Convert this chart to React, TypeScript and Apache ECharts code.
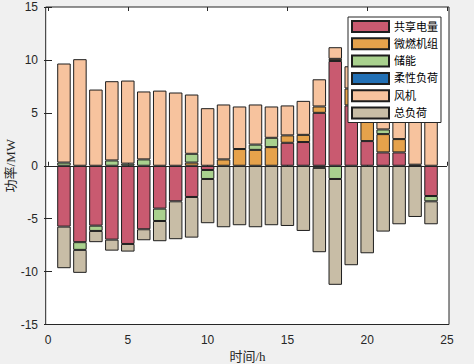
import React, { useEffect, useRef } from "react";
import * as echarts from "echarts";

const hours = [1, 2, 3, 4, 5, 6, 7, 8, 9, 10, 11, 12, 13, 14, 15, 16, 17, 18, 19, 20, 21, 22, 23, 24];
const sharedPower = [-5.75, -7.22, -5.66, -6.98, -7.39, -6.0, -4.05, -3.36, -2.95, -0.4, 0, 0, 0, 0, 2.17, 2.24, 5.0, 9.9, 5.7, 2.33, 1.26, 1.26, 0, -2.86];
const microTurbine = [0, 0, 0, 0, 0, 0, 0, 0, 0.3, 0, 0.6, 1.58, 1.5, 1.76, 0.7, 0.68, 0.6, 0.2, 1.6, 2.01, 1.73, 1.26, 0.1, 0];
const storage = [0.3, -0.73, -0.5, 0.5, 0.2, 0.6, -1.17, 0, 0.83, -0.85, 0, 0, 0.5, 0.88, 0, 0, -0.2, -1.25, 0, 0.96, 0.44, 0, 0, -0.5];
const flexibleLoad = [0, 0, 0, 0, 0, 0, 0, 0, 0, 0, 0, 0, 0, 0, 0, 0, 0, 0, 0, 0, 0, 0, 0, 0];
const windPower = [9.36, 10.07, 7.2, 7.49, 7.85, 6.42, 7.1, 6.92, 5.6, 5.44, 5.19, 4.02, 3.79, 2.96, 2.83, 3.21, 2.57, 1.1, 2.1, 2.97, 2.79, 3.01, 4.74, 5.53];
const totalLoad = [-3.93, -2.17, -1.06, -1.04, -0.72, -1.04, -1.91, -3.58, -3.84, -4.18, -5.81, -5.62, -5.81, -5.62, -5.69, -6.16, -7.97, -10.0, -9.4, -8.27, -6.22, -5.53, -4.84, -2.17];

const xMin = 0;
const xMax = 25;

const seriesNames = ["共享电量", "微燃机组", "储能", "柔性负荷", "风机", "总负荷"];
const seriesValues = [sharedPower, microTurbine, storage, flexibleLoad, windPower, totalLoad];
const seriesColors = ["#C95A70", "#E6A24B", "#A9D18E", "#2270B5", "#F7C39E", "#C8BDA6"];

const axisColor = "#262626";
const serifFont = "'Liberation Serif', 'Noto Sans CJK SC', serif";
const sansFont = "'Liberation Sans', Arial, sans-serif";

export default function App() {
  const ref = useRef<HTMLDivElement>(null);

  useEffect(() => {
    document.body.style.margin = "0";
    if (!ref.current) return;
    const chart = echarts.init(ref.current, undefined, { renderer: "svg" });

    // category slots 0..25 so that slot k sits exactly at value k on the value axis
    const slots: string[] = [];
    for (let k = xMin; k <= xMax; k++) slots.push(String(k));

    const series: any[] = seriesNames.map((name, i) => ({
      name,
      type: "bar",
      stack: "total",
      xAxisIndex: 0,
      yAxisIndex: 0,
      barWidth: 13.5,
      data: slots.map((s) => {
        const j = hours.indexOf(Number(s));
        if (j < 0) return "-";
        const v = seriesValues[i][j];
        return v === 0 ? "-" : v;
      }),
      itemStyle: { color: seriesColors[i], borderColor: "#1e1e1e", borderWidth: 1 },
      emphasis: { disabled: true },
    }));
    series[series.length - 1].markLine = {
      silent: true,
      symbol: ["none", "none"],
      label: { show: false },
      lineStyle: { color: axisColor, width: 1, type: "solid" },
      data: [{ yAxis: 0 }],
    };

    const commonX = {
      type: "value",
      min: xMin,
      max: xMax,
      interval: 5,
      axisLine: { show: false },
      splitLine: { show: false },
      axisTick: { show: true, inside: true, length: 4, lineStyle: { color: axisColor } },
    };
    const commonY = {
      type: "value",
      min: -15,
      max: 15,
      interval: 5,
      axisLine: { show: false },
      splitLine: { show: false },
      axisTick: { show: true, inside: true, length: 4, lineStyle: { color: axisColor } },
    };

    chart.setOption({
      animation: false,
      backgroundColor: "#f0f0f0",
      grid: { left: 48, right: 27, top: 7, bottom: 39.5, outerBoundsMode: "none", containLabel: false },
      graphic: [
        {
          type: "rect",
          z: -1,
          silent: true,
          shape: { x: 45.7, y: 7, width: 403.3, height: 317.5 },
          style: { fill: "#ffffff", stroke: axisColor, lineWidth: 1 },
        },
      ],
      legend: {
        orient: "vertical",
        left: 348,
        top: 17,
        backgroundColor: "#ffffff",
        borderColor: axisColor,
        borderWidth: 1,
        borderRadius: 0,
        padding: [3, 3, 3, 3],
        itemWidth: 37,
        itemHeight: 11,
        itemGap: 4.3,
        icon: "rect",
        textStyle: { fontFamily: serifFont, fontSize: 11, color: "#000" },
        data: seriesNames,
      },
      xAxis: [
        {
          type: "category",
          data: slots,
          boundaryGap: false,
          show: false,
        },
        {
          ...commonX,
          position: "bottom",
          name: "时间/h",
          nameLocation: "middle",
          nameGap: 25,
          nameMoveOverlap: false,
          nameTextStyle: { fontFamily: serifFont, fontSize: 13, color: axisColor },
          axisLabel: { margin: 9, fontFamily: sansFont, fontSize: 12, color: axisColor },
        },
        { ...commonX, position: "top", axisLabel: { show: false } },
      ],
      yAxis: [
        {
          ...commonY,
          position: "left",
          name: "功率/MW",
          nameLocation: "middle",
          nameGap: 31,
          nameMoveOverlap: false,
          nameTextStyle: { fontFamily: serifFont, fontSize: 13, color: axisColor },
          axisLabel: { margin: 10, fontFamily: sansFont, fontSize: 12, color: axisColor },
        },
        { ...commonY, position: "right", axisLabel: { show: false } },
      ],
      series,
    });

    return () => chart.dispose();
  }, []);

  return (
    <div
      ref={ref}
      style={{ position: "fixed", left: 0, top: 0, width: 474, height: 364 }}
    />
  );
}
